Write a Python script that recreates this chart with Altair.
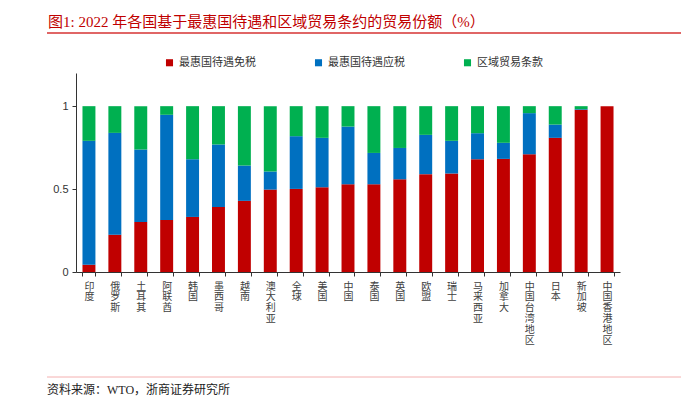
import altair as alt
import pandas as pd

countries = ["印度", "俄罗斯", "土耳其", "阿联酋", "韩国", "墨西哥", "越南", "澳大利亚",
             "全球", "美国", "中国", "泰国", "英国", "欧盟", "瑞士", "马来西亚", "加拿大",
             "中国台湾地区", "日本", "新加坡", "中国香港地区"]
series = ["最惠国待遇免税", "最惠国待遇应税", "区域贸易条款"]
colors = ["#C00000", "#0070C0", "#00B050"]

mfn_free = [0.044, 0.225, 0.302, 0.314, 0.332, 0.392, 0.429, 0.497, 0.501, 0.511, 0.529,
            0.529, 0.559, 0.590, 0.594, 0.680, 0.682, 0.710, 0.809, 0.978, 1.0]
mfn_tax = [0.747, 0.614, 0.436, 0.634, 0.348, 0.377, 0.213, 0.109, 0.318, 0.298, 0.348,
           0.189, 0.189, 0.237, 0.197, 0.157, 0.097, 0.248, 0.080, 0.004, 0.0]
rta = [0.209, 0.161, 0.262, 0.052, 0.320, 0.231, 0.358, 0.394, 0.181, 0.191, 0.123,
       0.282, 0.252, 0.173, 0.209, 0.163, 0.221, 0.042, 0.111, 0.018, 0.0]

rows = []
for i, c in enumerate(countries):
    for k, vals in enumerate([mfn_free, mfn_tax, rta]):
        rows.append({"country": c, "type": series[k], "ord": k, "share": vals[i]})
df = pd.DataFrame(rows)

serif = "Liberation Serif, Noto Sans CJK SC"

bars = alt.Chart(df).mark_bar().encode(
    x=alt.X("country:N", sort=countries, title=None,
            scale=alt.Scale(paddingInner=0.5, paddingOuter=0.25),
            axis=alt.Axis(labelAngle=0, labelExpr="split(datum.label, '')",
                          labelFont=serif, labelFontSize=10, labelLineHeight=10.8,
                          labelColor="#404040", labelBaseline="top", labelPadding=5,
                          tickBand="extent", tickSize=4, tickColor="#333333",
                          domainColor="#333333")),
    y=alt.Y("share:Q", title=None, stack="zero",
            scale=alt.Scale(domain=[0, 1.2], nice=False),
            axis=alt.Axis(values=[0, 0.5, 1], format="~g", grid=False,
                          labelFont="Liberation Sans", labelFontSize=11,
                          labelColor="#333333", tickSize=4, tickColor="#333333",
                          domainColor="#333333", labelPadding=4)),
    color=alt.Color("type:N", scale=alt.Scale(domain=series, range=colors),
                    legend=alt.Legend(title=None, orient="none", legendX=88, legendY=-16,
                                      direction="horizontal", symbolType="square",
                                      symbolSize=50, columnPadding=57,
                                      labelFont=serif, labelFontSize=11,
                                      labelColor="#333333")),
    order=alt.Order("ord:Q", sort="ascending"),
)

one = pd.DataFrame({"a": [0]})
title_line = alt.Chart(one).mark_rule(color="#E06666", strokeWidth=2).encode(
    x=alt.value(-29), x2=alt.value(613), y=alt.value(-40))
foot_line = alt.Chart(one).mark_rule(color="#F4B0B0", strokeWidth=1).encode(
    x=alt.value(-29), x2=alt.value(613), y=alt.value(304))
title_text = alt.Chart(one).mark_text(
    text="图1:  2022 年各国基于最惠国待遇和区域贸易条约的贸易份额（%）",
    align="left", baseline="middle", font=serif, fontSize=15, color="#C00000"
).encode(x=alt.value(-28), y=alt.value(-51))
foot_text = alt.Chart(one).mark_text(
    text="资料来源：WTO，浙商证券研究所",
    align="left", baseline="alphabetic", font=serif, fontSize=12, color="#222222"
).encode(x=alt.value(-29), y=alt.value(321))

chart = alt.layer(bars, title_line, foot_line, title_text, foot_text).properties(
    width=544, height=199,
    autosize=alt.AutoSizeParams(type="none"),
    padding={"left": 68, "top": 65, "right": 61, "bottom": 124},
).configure_view(stroke=None)

chart.save("out.html", embed_options={"renderer": "svg", "actions": False})
